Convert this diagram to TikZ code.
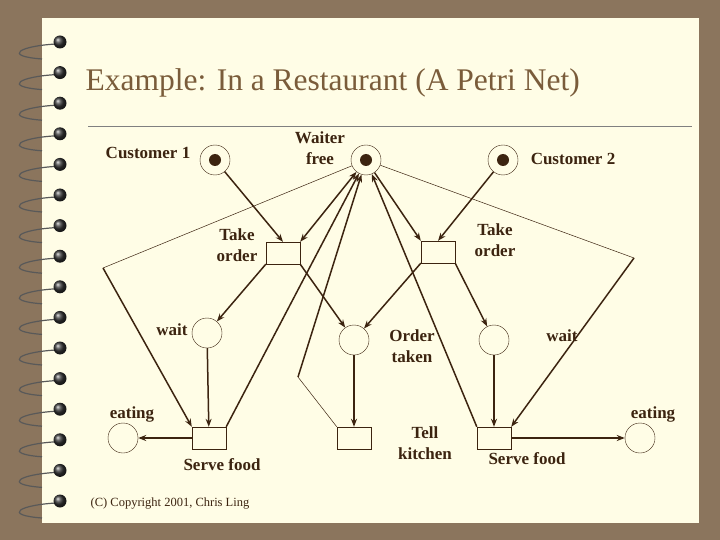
\documentclass[tikz,border=0pt]{standalone}
\usepackage{fontspec}
\setmainfont{Liberation Serif}
\usetikzlibrary{arrows.meta}
\definecolor{bg}{RGB}{139,117,93}
\definecolor{paper}{RGB}{255,253,230}
\definecolor{ink}{RGB}{60,36,16}
\definecolor{ttl}{RGB}{122,92,58}
\begin{document}
\begin{tikzpicture}[x=1pt,y=-1pt,
  place/.style={circle,draw=ink,thin,minimum size=30pt,inner sep=0pt},
  trans/.style={rectangle,draw=ink,thin,minimum width=34pt,minimum height=22pt,inner sep=0pt},
  tok/.style={circle,fill=ink,inner sep=0pt,minimum size=12pt},
  lbl/.style={text=ink,font=\bfseries\fontsize{17}{21}\selectfont,align=center},
  arc/.style={draw=ink,line width=1.5pt,-{Stealth[length=8pt,width=6pt]}},
  thinl/.style={draw=ink,line width=0.5pt}]
\useasboundingbox (0,0) rectangle (720,540);
\fill[bg] (0,0) rectangle (720,540);
\fill[paper] (42,18) rectangle (699,523);
% spiral binding
\foreach \i in {0,...,15}{
  \pgfmathsetmacro\yy{42+\i*30.6}
  \draw[gray!70!black,line width=1.2pt] (56,\yy+2) .. controls (20,\yy+4) and (2,\yy+14) .. (42,\yy+17);
  \shade[ball color=black!80] (60,\yy) circle (6.5);
}
\node[anchor=west,text=ttl,font=\fontsize{31.5}{34}\selectfont] (title) at (82,83) {Example: In a Restaurant (A Petri Net)};
\draw[gray,line width=0.6pt] (88,126) -- (692,126);
% places
\node[place] (c1) at (215,160) {}; \node[tok] at (c1) {};
\node[place] (w) at (366,160) {}; \node[tok] at (w) {};
\node[place] (c2) at (503,160) {}; \node[tok] at (c2) {};
\node[place] (wt1) at (207,333) {};
\node[place] (ot) at (354,340) {};
\node[place] (wt2) at (494,340) {};
\node[place] (e1) at (123,438) {};
\node[place] (e2) at (640,438) {};
% transitions
\node[trans] (to1) at (283,253) {};
\node[trans] (to2) at (438,252) {};
\node[trans] (sf1) at (209,438) {};
\node[trans] (tk) at (354,438) {};
\node[trans] (sf2) at (494,438) {};
% labels
\node[lbl] at (148,153) {Customer 1};
\node[lbl] at (320,148) {Waiter\\free};
\node[lbl] at (573,159) {Customer 2};
\node[lbl] at (237,245) {Take\\order};
\node[lbl] at (495,240) {Take\\order};
\node[lbl] at (172,330) {wait};
\node[lbl] at (412,346) {Order\\taken};
\node[lbl] at (562,336) {wait};
\node[lbl] at (132,414) {eating};
\node[lbl] at (653,414) {eating};
\node[lbl] at (222,465) {Serve food};
\node[lbl] at (425,443) {Tell\\kitchen};
\node[lbl] at (527,459) {Serve food};
\node[text=ink,font=\fontsize{12.5}{14}\selectfont] (cp) at (170,504) {(C) Copyright 2001, Chris Ling};
% arcs
\draw[arc] (c1) -- (to1.north);
\draw[arc] (c2) -- (to2.north);
\draw[arc,{Stealth[length=8pt,width=6pt]}-{Stealth[length=8pt,width=6pt]}] (w) -- (to1.north east);
\draw[arc] (w) -- (to2.north west);
\draw[arc] (to1.south west) -- (wt1);
\draw[arc] (to1.south east) -- (ot);
\draw[arc] (to2.south west) -- (ot);
\draw[arc] (to2.south east) -- (wt2);
\draw[arc] (wt1) -- (sf1);
\draw[arc] (ot) -- (tk);
\draw[arc] (wt2) -- (sf2);
\draw[arc] (sf1) -- (e1);
\draw[arc] (sf2) -- (e2);
\draw[arc] (sf1.north east) -- (w);
\draw[arc] (sf2.north west) -- (w);
\coordinate (k1) at (298,377);
\draw[thinl] (tk.north west) -- (k1);
\draw[arc] (k1) -- (w);
\coordinate (l1) at (103,268);
\coordinate (r1) at (634,258);
\draw[thinl] (w) -- (l1);
\draw[arc] (l1) -- (sf1.north west);
\draw[thinl] (w) -- (r1);
\draw[arc] (r1) -- (sf2.north east);
\end{tikzpicture}
\end{document}
